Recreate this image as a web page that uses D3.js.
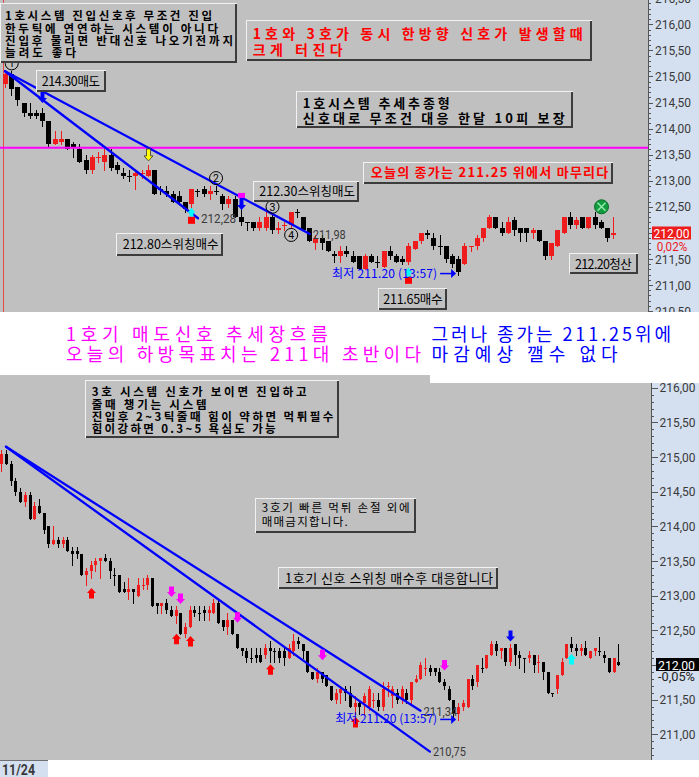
<!DOCTYPE html>
<html><head><meta charset="utf-8">
<script src="https://cdn.jsdelivr.net/npm/d3@7"></script>
<style>html,body{margin:0;padding:0;background:#fff;}svg{display:block;}</style>
</head><body>
<svg id="c" width="699" height="777"></svg>
<script>
// ---------------- DATA ----------------
// Panel 1 (upper chart) candles
const p1Open = [214.85,215.05,214.80,214.50,214.30,214.30,214.30,214.15,213.70,213.75,
213.80,213.70,213.60,213.40,213.20,213.45,213.35,213.50,213.30,213.15,
213.10,213.10,213.15,213.10,213.20,212.85,212.80,212.75,212.70,212.60,
212.55,212.80,212.85,212.75,212.80,212.70,212.55,212.65,212.30,212.20,
212.20,212.10,212.10,212.30,212.05,212.15,212.15,212.40,212.30,212.10,
211.80,211.90,211.85,211.60,211.55,211.65,211.55,211.55,211.30,211.55,
211.45,211.35,211.65,211.55,211.50,211.45,211.70,211.85,212.00,211.90,
211.75,211.75,211.55,211.50,211.40,211.75,211.75,211.90,212.10,212.30,
212.10,212.00,212.25,212.10,212.10,212.00,212.05,211.85,211.55,211.75,
212.00,212.30,212.15,212.30,212.10,212.30,212.20,212.10,211.95];
const p1High = [215.10,215.10,214.80,214.50,214.50,214.35,214.40,214.15,213.95,213.95,
213.80,213.75,213.70,213.50,213.50,213.55,213.60,213.60,213.35,213.25,
213.20,213.20,213.20,213.30,213.20,212.90,212.90,212.80,212.80,212.60,
212.85,212.85,212.90,212.90,212.90,212.75,212.70,212.70,212.45,212.20,
212.20,212.30,212.40,212.35,212.20,212.20,212.40,212.45,212.30,212.10,
211.95,211.95,211.85,211.65,211.75,211.75,211.65,211.55,211.60,211.60,
211.55,211.65,211.75,211.60,211.55,211.80,211.85,212.00,212.05,212.00,
211.95,211.75,211.60,211.55,211.80,211.75,211.95,212.10,212.35,212.30,
212.20,212.30,212.30,212.10,212.10,212.10,212.05,211.85,211.80,212.05,
212.30,212.40,212.30,212.30,212.30,212.40,212.25,212.10,212.30];
const p1Low = [214.80,214.65,214.45,214.25,214.20,214.20,214.05,213.65,213.70,213.70,
213.60,213.45,213.35,213.15,213.15,213.35,213.20,213.20,213.15,213.05,
213.00,212.85,213.05,213.10,212.75,212.75,212.70,212.60,212.55,212.40,
212.50,212.70,212.70,212.65,212.75,212.45,212.50,212.30,212.15,212.05,
212.05,212.05,212.05,212.00,212.00,212.05,212.10,212.30,212.05,211.85,
211.70,211.70,211.65,211.45,211.45,211.55,211.45,211.30,211.30,211.45,
211.35,211.35,211.50,211.45,211.40,211.40,211.70,211.80,211.90,211.70,
211.60,211.45,211.35,211.20,211.40,211.65,211.70,211.85,212.10,212.10,
211.95,212.00,211.95,211.85,211.85,211.90,211.85,211.50,211.50,211.75,
212.00,212.10,212.10,212.10,212.10,212.10,212.10,211.85,211.90];
const p1Close = [215.05,214.75,214.55,214.30,214.25,214.25,214.15,213.70,213.80,213.80,
213.60,213.65,213.35,213.20,213.45,213.45,213.50,213.25,213.20,213.10,
213.10,213.15,213.15,213.20,212.75,212.85,212.75,212.60,212.60,212.45,
212.85,212.80,212.75,212.80,212.80,212.55,212.65,212.30,212.20,212.20,
212.10,212.20,212.30,212.05,212.10,212.15,212.40,212.40,212.05,211.85,
211.90,211.80,211.65,211.55,211.65,211.60,211.45,211.30,211.55,211.45,
211.45,211.65,211.55,211.45,211.45,211.75,211.85,212.00,211.95,211.75,
211.75,211.50,211.40,211.25,211.75,211.75,211.90,212.10,212.30,212.10,
212.00,212.20,212.05,212.00,212.00,212.05,211.85,211.55,211.80,212.05,
212.30,212.15,212.25,212.10,212.30,212.15,212.10,211.90,212.00];
const p1RedDoji = [15, 22, 45, 75];

// Panel 2 (lower chart) candles
const p2Open = [214.90,215.05,214.90,214.65,214.50,214.35,214.45,214.10,214.30,214.20,
214.00,213.75,213.80,213.75,213.80,213.65,213.65,213.60,213.30,213.35,
213.45,213.50,213.55,213.50,213.30,213.30,213.10,213.05,213.10,213.00,
213.15,213.15,213.25,212.90,212.85,212.90,212.80,212.70,212.75,212.45,
212.55,212.80,212.75,212.80,212.75,212.75,212.90,212.65,212.55,212.65,
212.45,212.25,212.20,212.10,212.15,212.15,212.15,212.25,212.20,212.20,
212.20,212.10,212.20,212.35,212.30,212.20,211.90,211.80,211.90,211.85,
211.70,211.50,211.60,211.65,211.60,211.40,211.45,211.45,211.40,211.50,
211.50,211.40,211.70,211.55,211.60,211.50,211.60,211.50,211.75,211.80,
211.95,211.95,211.95,211.90,211.75,211.65,211.50,211.30,211.40,211.40,
211.80,211.75,211.95,211.95,212.15,212.30,212.20,212.25,212.05,212.30,
212.15,212.10,212.10,212.15,212.05,212.05,211.90,211.60,211.65,211.85,
212.10,212.30,212.25,212.20,212.25,212.10,212.20,212.20,212.15,212.10,
211.90,212.05];
const p2High = [215.10,215.10,214.95,214.70,214.55,214.50,214.50,214.35,214.40,214.20,
214.00,214.00,213.85,213.85,213.85,213.70,213.70,213.60,213.40,213.50,
213.55,213.55,213.60,213.55,213.40,213.30,213.20,213.25,213.10,213.25,
213.25,213.30,213.25,212.90,212.90,212.95,212.85,212.85,212.75,212.60,
212.85,212.85,212.85,212.85,212.85,212.95,212.95,212.65,212.75,212.65,
212.45,212.25,212.25,212.25,212.25,212.25,212.30,212.35,212.25,212.25,
212.25,212.30,212.45,212.40,212.30,212.20,211.90,211.95,211.90,211.85,
211.70,211.65,211.70,211.70,211.70,211.55,211.50,211.60,211.70,211.60,
211.60,211.75,211.75,211.70,211.65,211.70,211.65,211.75,211.85,212.05,
212.10,212.00,211.95,211.95,211.80,211.70,211.50,211.45,211.50,211.80,
211.85,212.00,212.10,212.15,212.35,212.35,212.25,212.25,212.30,212.30,
212.20,212.10,212.20,212.15,212.15,212.05,211.90,211.60,211.85,212.10,
212.30,212.40,212.30,212.30,212.35,212.20,212.25,212.40,212.20,212.10,
212.10,212.30];
const p2Low = [214.80,214.90,214.60,214.45,214.35,214.30,214.10,214.10,214.20,213.90,
213.70,213.75,213.70,213.70,213.65,213.45,213.55,213.30,213.15,213.25,
213.35,213.25,213.50,213.25,213.15,213.05,213.05,212.95,212.90,213.00,
213.10,213.10,212.85,212.75,212.75,212.75,212.70,212.60,212.45,212.40,
212.55,212.70,212.65,212.65,212.65,212.75,212.60,212.50,212.45,212.45,
212.25,212.15,212.05,212.05,212.05,212.05,212.10,212.05,212.05,212.05,
212.00,212.10,212.15,212.25,212.10,211.90,211.80,211.75,211.75,211.70,
211.50,211.45,211.45,211.50,211.40,211.30,211.30,211.30,211.35,211.40,
211.35,211.35,211.55,211.40,211.45,211.45,211.45,211.45,211.75,211.80,
211.85,211.85,211.85,211.75,211.65,211.50,211.25,211.20,211.35,211.40,
211.65,211.70,211.90,211.95,212.15,212.15,212.10,212.00,212.00,212.00,
211.95,211.90,212.05,211.90,211.90,211.80,211.60,211.55,211.60,211.85,
212.10,212.20,212.15,212.15,212.15,212.10,212.15,212.15,212.05,211.90,
211.90,212.00];
const p2Close = [215.05,214.90,214.65,214.50,214.35,214.45,214.10,214.30,214.20,213.95,
213.75,213.80,213.75,213.80,213.65,213.60,213.60,213.30,213.35,213.45,
213.50,213.55,213.50,213.35,213.30,213.05,213.05,213.10,213.05,213.15,
213.15,213.25,212.85,212.85,212.90,212.80,212.70,212.80,212.45,212.55,
212.80,212.75,212.75,212.75,212.80,212.90,212.60,212.55,212.65,212.45,
212.25,212.20,212.10,212.10,212.10,212.05,212.25,212.20,212.20,212.10,
212.10,212.25,212.35,212.30,212.20,211.90,211.80,211.90,211.80,211.70,
211.50,211.60,211.65,211.60,211.40,211.45,211.40,211.55,211.65,211.50,
211.40,211.65,211.70,211.65,211.50,211.65,211.50,211.75,211.80,212.00,
211.95,211.90,211.90,211.75,211.70,211.50,211.30,211.40,211.45,211.80,
211.70,212.00,211.95,212.15,212.30,212.20,212.25,212.05,212.25,212.15,
212.10,212.10,212.15,212.00,212.05,211.90,211.60,211.60,211.85,212.05,
212.30,212.25,212.20,212.25,212.15,212.20,212.25,212.20,212.10,211.90,
212.10,212.00];
const p2RedDoji = [30, 79, 82, 90, 114];

// price axis tick labels
const priceTicks = [210.5, 211, 211.5, 212, 212.5, 213, 213.5, 214, 214.5, 215, 215.5, 216, 216.5];

// trend lines: [index, price] -> [index, price]
const p1Trends = [
  {from: [0, 215.10], to: [31.1, 212.28], label: "212,28"},
  {from: [0, 215.10], to: [49.1, 211.98], label: "211,98"}
];
const p2Trends = [
  {from: [1, 215.15], to: [89.0, 211.34], label: "211,34"},
  {from: [1, 215.15], to: [91.0, 210.75], label: "210,75"}
];
const p1Level = 213.63;          // magenta horizontal level
const lastPrice = 212.00;
const p1Last = {price: "212,00", change: "0,02%"};
const p2Last = {price: "212,00", change: "-0,05%"};
const lowLabel = "최저 211.20 (13:57)";

// signal markers: candle index, price of arrow tip, kind
const p1Markers = [
  {i: 6, v: 214.49, kind: "blueDown"},
  {i: 23, v: 213.38, kind: "yellowDown"},
  {i: 30, v: 212.48, kind: "cyanUpSq"},
  {i: 38, v: 212.44, kind: "magBlueDown"},
  {i: 65, v: 211.33, kind: "cyanUpSq"},
  {i: 96, v: 212.50, kind: "greenX"}
];
const p1Circles = [
  {n: "1", i: 1.08, v: 215.25}, {n: "2", i: 34.0, v: 213.05},
  {n: "3", i: 43.1, v: 212.50}, {n: "4", i: 46.1, v: 211.96}
];
const p2Markers = [
  {i: 19, v: 213.11, kind: "redUp"}, {i: 37, v: 212.45, kind: "redUp"},
  {i: 40, v: 212.42, kind: "redUp"}, {i: 57, v: 212.01, kind: "redUp"},
  {i: 75, v: 211.25, kind: "redUp"},
  {i: 36, v: 212.98, kind: "magDown"}, {i: 38, v: 212.88, kind: "magDown"},
  {i: 50, v: 212.61, kind: "magDown"}, {i: 68, v: 212.07, kind: "magDown"},
  {i: 94, v: 211.92, kind: "magDown"},
  {i: 108, v: 212.34, kind: "blueDown"},
  {i: 121, v: 212.16, kind: "cyanUp"}
];

// ---------------- DRAWING ----------------
const FONT = "'Noto Sans CJK KR','Noto Sans',sans-serif";
const NUMFONT = "Roboto,'Noto Sans',sans-serif";
const RED = "#ee1c1c";
const svg = d3.select("#c");
const defs = svg.append("defs");
defs.append("clipPath").attr("id", "clip1").append("rect").attr("x", 0).attr("y", 0).attr("width", 648).attr("height", 312);
defs.append("clipPath").attr("id", "clip2").append("rect").attr("x", 0).attr("y", 375).attr("width", 651).attr("height", 385);
defs.append("clipPath").attr("id", "clipA1").append("rect").attr("x", 648).attr("y", 0).attr("width", 51).attr("height", 312);
defs.append("clipPath").attr("id", "clipA2").append("rect").attr("x", 651).attr("y", 383).attr("width", 48).attr("height", 377);

function label(g, o) {
  const t = g.append("text").attr("x", o.x).attr("y", o.y).text(o.t)
    .attr("font-family", o.font || FONT).attr("font-size", o.fs)
    .attr("font-weight", o.bold ? 700 : 400).attr("fill", o.fill || "#000");
  if (o.w) t.attr("textLength", o.w).attr("lengthAdjust", o.adj || "spacing");
  if (o.anchor) t.attr("text-anchor", o.anchor);
  return t;
}
function bevelBox(g, x, y, w, h) {
  g.append("rect").attr("x", x).attr("y", y).attr("width", w).attr("height", h)
    .attr("fill", "#c0c0c0").attr("shape-rendering", "crispEdges");
  g.append("path").attr("d", `M${x + 0.5},${y + h} V${y + 0.5} H${x + w}`)
    .attr("fill", "none").attr("stroke", "#f2f2f2").attr("stroke-width", 1).attr("shape-rendering", "crispEdges");
  g.append("path").attr("d", `M${x + w - 1},${y + 1} V${y + h - 1} H${x + 1}`)
    .attr("fill", "none").attr("stroke", "#3c3c3c").attr("stroke-width", 2).attr("shape-rendering", "crispEdges");
}
function arrowPath(cx, tip, dir, hw, hh, sw, sh) {
  const s = dir === "down" ? -1 : 1;
  const b = tip + s * hh;
  const e = b + s * sh;
  return `M${cx},${tip} L${cx + hw},${b} H${cx + sw} V${e} H${cx - sw} V${b} H${cx - hw} Z`;
}

function drawCandles(g, x, y, O, Hh, L, C, redDoji, bw) {
  const idx = d3.range(O.length);
  const color = i => (C[i] > O[i] || (C[i] === O[i] && redDoji.includes(i))) ? RED : "#000";
  g.selectAll(null).data(idx).join("line")
    .attr("x1", i => Math.round(x(i)) + 0.5).attr("x2", i => Math.round(x(i)) + 0.5)
    .attr("y1", i => Math.round(y(Hh[i]))).attr("y2", i => Math.round(y(L[i])) + 1)
    .attr("stroke", color).attr("stroke-width", 1).attr("shape-rendering", "crispEdges");
  g.selectAll(null).data(idx).join("rect")
    .attr("x", i => Math.round(x(i)) - Math.floor(bw / 2))
    .attr("width", bw)
    .attr("y", i => Math.round(y(Math.max(O[i], C[i]))))
    .attr("height", i => Math.max(1, Math.round(y(Math.min(O[i], C[i]))) - Math.round(y(Math.max(O[i], C[i])))))
    .attr("fill", color).attr("shape-rendering", "crispEdges");
}

function drawTrends(g, x, y, trends, labW) {
  trends.forEach((t, k) => {
    g.append("line").attr("x1", x(t.from[0])).attr("y1", y(t.from[1]))
      .attr("x2", x(t.to[0])).attr("y2", y(t.to[1]))
      .attr("stroke", "#0000ff").attr("stroke-width", 2.3).attr("stroke-linecap", "round");
    label(g, {x: x(t.to[0]) + 3, y: y(t.to[1]) + 4.8, t: t.label, fs: 12.5, fill: "#3a3a3a", font: NUMFONT, w: labW[k], adj: "spacingAndGlyphs"});
  });
}

function drawAxis(y, axX, top, bottom, tickLen, pad, clipId) {
  const g = svg.append("g").attr("clip-path", `url(#${clipId})`);
  g.append("rect").attr("x", axX).attr("y", top).attr("width", 699 - axX).attr("height", bottom - top).attr("fill", "#d4e0ef");
  g.append("line").attr("x1", axX + 0.5).attr("x2", axX + 0.5).attr("y1", top).attr("y2", bottom)
    .attr("stroke", "#555").attr("shape-rendering", "crispEdges");
  const minors = d3.range(2105, 2166, 1).map(d => d / 10);
  g.selectAll(null).data(minors).join("line")
    .attr("x1", axX).attr("x2", axX + 3).attr("y1", d => Math.round(y(d)) + 0.5).attr("y2", d => Math.round(y(d)) + 0.5)
    .attr("stroke", "#555").attr("shape-rendering", "crispEdges");
  const ax = d3.axisRight(y).tickValues(priceTicks).tickSize(tickLen).tickPadding(pad)
    .tickFormat(d => d3.format(".2f")(d).replace(".", ","));
  const ag = g.append("g").attr("transform", `translate(${axX},0)`).call(ax);
  ag.select(".domain").remove();
  ag.selectAll(".tick line").attr("stroke", "#555").attr("shape-rendering", "crispEdges");
  ag.selectAll(".tick text").attr("font-family", NUMFONT).attr("font-size", 13).attr("fill", "#3a3a3a")
    .attr("textLength", 36).attr("lengthAdjust", "spacingAndGlyphs")
    .attr("display", d => d === lastPrice ? "none" : null);   // covered by the last-price box
  return g;
}

function drawMarker(g, m, x, y) {
  const cx = Math.round(x(m.i)) + 0.5, ty = y(m.v);
  switch (m.kind) {
    case "blueDown":
      g.append("path").attr("d", arrowPath(cx, ty, "down", 4.5, 5, 2, 6)).attr("fill", "#0000ff"); break;
    case "magDown":
      g.append("path").attr("d", arrowPath(cx, ty, "down", 4.5, 5, 2.5, 5.5)).attr("fill", "#ff00ff"); break;
    case "redUp":
      g.append("path").attr("d", arrowPath(cx, ty, "up", 4.5, 5, 2.5, 5.5)).attr("fill", "#ff0000"); break;
    case "cyanUp":
      g.append("path").attr("d", arrowPath(cx, ty, "up", 4.5, 5, 2.5, 5.5)).attr("fill", "#00ffff"); break;
    case "yellowDown":
      g.append("path").attr("d", arrowPath(cx, ty, "down", 4.5, 5, 2, 7)).attr("fill", "#ffff00")
        .attr("stroke", "#333").attr("stroke-width", 0.8); break;
    case "cyanUpSq":
      g.append("path").attr("d", arrowPath(cx, ty, "up", 4, 5, 2, 4)).attr("fill", "#00ffff");
      g.append("rect").attr("x", cx - 3.5).attr("y", ty + 9).attr("width", 7).attr("height", 7).attr("fill", "#ff0000"); break;
    case "magBlueDown":
      g.append("rect").attr("x", cx - 3.5).attr("y", ty - 17).attr("width", 7).attr("height", 5).attr("fill", "#ff00ff");
      g.append("path").attr("d", arrowPath(cx, ty, "down", 4.5, 5, 2, 7)).attr("fill", "#0000ff"); break;
    case "greenX":
      g.append("circle").attr("cx", cx).attr("cy", ty).attr("r", 7).attr("fill", "#129a3e").attr("stroke", "#0c6e2a");
      g.append("path").attr("d", `M${cx - 4},${ty - 4} L${cx + 4},${ty + 4} M${cx + 4},${ty - 4} L${cx - 4},${ty + 4}`)
        .attr("stroke", "#8fe8a8").attr("stroke-width", 1.6); break;
  }
}

function lowArrow(g, x, y, O, L, textW) {
  let iLow = 0; L.forEach((v, i) => { if (v < L[iLow]) iLow = i; });
  const tipX = x(iLow) - 2, yy = y(L[iLow]) - 1;
  label(g, {x: tipX - 16 - textW - 3, y: yy + 4, t: lowLabel, fs: 12, fill: "#0000ff", w: textW});
  g.append("line").attr("x1", tipX - 16).attr("x2", tipX - 3).attr("y1", yy).attr("y2", yy).attr("stroke", "#0000ff").attr("stroke-width", 1.5);
  g.append("path").attr("d", `M${tipX},${yy} L${tipX - 5},${yy - 4.5} L${tipX - 5},${yy + 4.5} Z`).attr("fill", "#0000ff");
}

// ===== Panel 1 =====
const x1 = d3.scaleLinear().domain([0, p1Open.length - 1]).range([5, 613.3]);
const y1 = d3.scaleLinear().domain([211, 216]).range([285.0, 24.3]);
svg.append("rect").attr("x", 0).attr("y", 0).attr("width", 648).attr("height", 312).attr("fill", "#c0c0c0");
const g1 = svg.append("g").attr("clip-path", "url(#clip1)");
g1.append("line").attr("x1", 3.5).attr("x2", 3.5).attr("y1", 0).attr("y2", 312).attr("stroke", "#e84848").attr("shape-rendering", "crispEdges");
drawCandles(g1, x1, y1, p1Open, p1High, p1Low, p1Close, p1RedDoji, 5);
g1.append("line").attr("x1", 0).attr("x2", 648).attr("y1", y1(p1Level)).attr("y2", y1(p1Level))
  .attr("stroke", "#ff00ff").attr("stroke-width", 2);
drawTrends(g1, x1, y1, p1Trends, [35, 33]);
p1Markers.forEach(m => drawMarker(g1, m, x1, y1));
p1Circles.forEach(c => {
  g1.append("circle").attr("cx", x1(c.i)).attr("cy", y1(c.v)).attr("r", 6.5).attr("fill", "none").attr("stroke", "#000").attr("stroke-width", 1);
  label(g1, {x: x1(c.i), y: y1(c.v) + 3.8, t: c.n, fs: 10.5, anchor: "middle", font: NUMFONT});
});
lowArrow(g1, x1, y1, p1Open, p1Low, 105);

// boxes panel 1
bevelBox(g1, 0, 3, 237, 60);
[["1호시스템 진입신호후 무조건 진입", 20.3, 207], ["한두틱에 연연하는 시스템이 아니다", 32.6, 213],
 ["진입후 물리면 반대신호 나오기전까지", 45.2, 228], ["늘려도 좋다", 57.2, 71]]
  .forEach(([t, yy, w]) => label(g1, {x: 5, y: yy, t, fs: 11.5, bold: true, w}));
bevelBox(g1, 246, 20, 346, 41);
label(g1, {x: 252.7, y: 38.5, t: "1호와 3호가 동시 한방향 신호가 발생할때", fs: 14, bold: true, fill: "#ff0000", w: 330});
label(g1, {x: 252.7, y: 54.5, t: "크게 터진다", fs: 14, bold: true, fill: "#ff0000", w: 90});
bevelBox(g1, 36, 70, 70, 22);
label(g1, {x: 41.7, y: 86, t: "214.30매도", fs: 12.5, w: 58.3});
bevelBox(g1, 296, 91, 277, 37);
label(g1, {x: 302.7, y: 108, t: "1호시스템 추세추종형", fs: 13, bold: true, w: 147});
label(g1, {x: 302.7, y: 122.5, t: "신호대로 무조건 대응 한달 10피 보장", fs: 13, bold: true, w: 262});
bevelBox(g1, 363, 162, 250, 21.5);
label(g1, {x: 370.7, y: 177, t: "오늘의 종가는 211.25 위에서 마무리다", fs: 13, bold: true, fill: "#ff0000", w: 237.6});
bevelBox(g1, 253, 181, 106, 21);
label(g1, {x: 259.3, y: 196, t: "212.30스위칭매도", fs: 12.5, w: 95.7});
bevelBox(g1, 116, 233, 107, 23);
label(g1, {x: 122.7, y: 249.3, t: "212.80스위칭매수", fs: 12.5, w: 95.7});
bevelBox(g1, 569.3, 252.7, 69, 21.5);
label(g1, {x: 575, y: 268.5, t: "212.20청산", fs: 12.5, w: 56.7});
bevelBox(g1, 377.7, 288.3, 69, 22);
label(g1, {x: 383.3, y: 304.3, t: "211.65매수", fs: 12.5, w: 59.3});

// axis panel 1
const a1 = drawAxis(y1, 648, 0, 312, 5, 2, "clipA1");
a1.append("rect").attr("x", 652).attr("y", Math.round(y1(lastPrice)) - 6.5).attr("width", 39).attr("height", 13).attr("fill", RED);
label(a1, {x: 653.5, y: y1(lastPrice) + 5, t: p1Last.price, fs: 13, fill: "#fff", font: NUMFONT, w: 36, adj: "spacingAndGlyphs"});
label(a1, {x: 656.7, y: 250.5, t: p1Last.change, fs: 12.5, fill: RED, font: NUMFONT, w: 30.6, adj: "spacingAndGlyphs"});

// ===== Middle text =====
label(svg, {x: 66, y: 341, t: "1호기 매도신호 추세장흐름", fs: 18, fill: "#ff00ff", w: 261.7});
label(svg, {x: 66, y: 360.5, t: "오늘의 하방목표치는 211대 초반이다", fs: 18, fill: "#ff00ff", w: 355});
label(svg, {x: 431.6, y: 341, t: "그러나 종가는 211.25위에", fs: 18, fill: "#0000ff", w: 239.4});
label(svg, {x: 431.6, y: 360.5, t: "마감예상 깰수 없다", fs: 18, fill: "#0000ff", w: 186});

// ===== Panel 2 =====
const x2 = d3.scaleLinear().domain([0, p2Open.length - 1]).range([1.3, 618.3]);
const y2 = d3.scaleLinear().domain([211, 216]).range([734.3, 387.8]);
svg.append("rect").attr("x", 0).attr("y", 375).attr("width", 651).attr("height", 385).attr("fill", "#c0c0c0");
const g2 = svg.append("g").attr("clip-path", "url(#clip2)");
drawCandles(g2, x2, y2, p2Open, p2High, p2Low, p2Close, p2RedDoji, 3);
drawTrends(g2, x2, y2, p2Trends, [34, 33]);
p2Markers.forEach(m => drawMarker(g2, m, x2, y2));
lowArrow(g2, x2, y2, p2Open, p2Low, 102);

bevelBox(g2, 85, 380, 254, 58);
[["3호 시스템 신호가 보이면 진입하고", 396.3, 215], ["줄때 챙기는 시스템", 408.5, 115],
 ["진입후 2~3틱줄때 힘이 약하면 먹튀필수", 420.7, 241.7], ["힘이강하면 0.3~5 욕심도 가능", 432.6, 184]]
  .forEach(([t, yy, w]) => label(g2, {x: 91.7, y: yy, t, fs: 11.5, bold: true, w}));
bevelBox(g2, 255, 498, 161, 35);
label(g2, {x: 261.7, y: 511.5, t: "3호기 빠른 먹튀 손절 외에", fs: 11.5, w: 148});
label(g2, {x: 261.7, y: 525.5, t: "매매금지합니다.", fs: 11.5, w: 86});
bevelBox(g2, 278, 566.7, 220, 22);
label(g2, {x: 285, y: 582.5, t: "1호기 신호 스위칭 매수후 대응합니다", fs: 13, w: 208});

const a2 = drawAxis(y2, 651, 383, 760, 7, 1.5, "clipA2");
a2.append("rect").attr("x", 656).attr("y", Math.round(y2(lastPrice)) - 7).attr("width", 43).attr("height", 13).attr("fill", "#000");
label(a2, {x: 658, y: y2(lastPrice) + 4.5, t: p2Last.price, fs: 13, fill: "#fff", font: NUMFONT, w: 37, adj: "spacingAndGlyphs"});
label(a2, {x: 658, y: 681, t: p2Last.change, fs: 12.5, fill: "#222", font: NUMFONT, w: 37, adj: "spacingAndGlyphs"});

// white notch at top right of panel 2
svg.append("rect").attr("x", 430).attr("y", 369).attr("width", 269).attr("height", 14).attr("fill", "#fff");

// date tab
svg.append("rect").attr("x", 0).attr("y", 760).attr("width", 48).attr("height", 17).attr("fill", "#d4e0ef");
svg.append("line").attr("x1", 0).attr("x2", 48).attr("y1", 760.5).attr("y2", 760.5).attr("stroke", "#707070").attr("shape-rendering", "crispEdges");
label(svg, {x: 2, y: 775, t: "11/24", fs: 14, bold: true, fill: "#3a3a3a", font: NUMFONT, w: 33, adj: "spacingAndGlyphs"});
</script>
</body></html>
